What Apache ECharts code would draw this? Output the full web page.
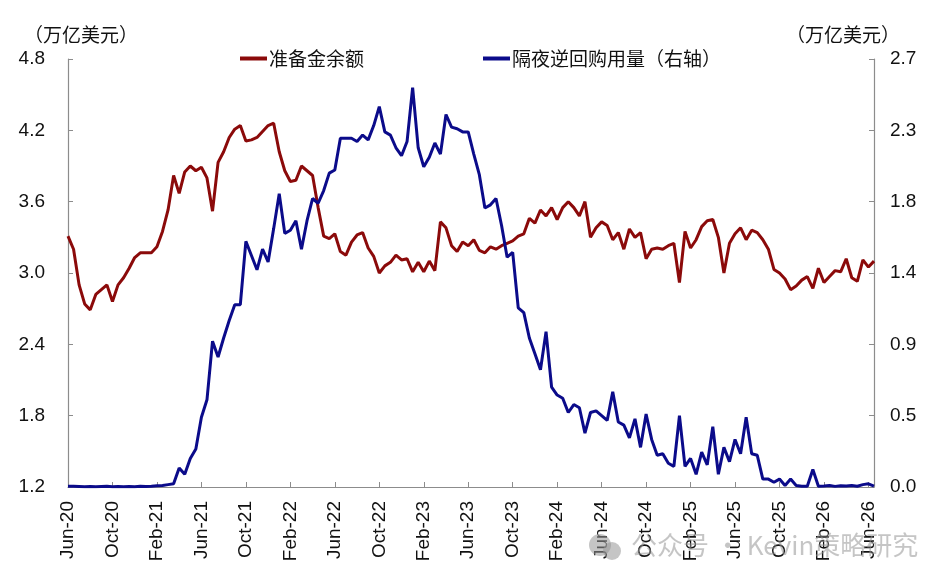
<!DOCTYPE html>
<html>
<head>
<meta charset="utf-8">
<script src="https://cdn.jsdelivr.net/npm/echarts@6/dist/echarts.min.js"></script>
<style>html,body{margin:0;padding:0;background:#fff}#c{width:947px;height:587px}</style>
</head>
<body>
<div id="c"></div>
<script>
// Half-month sampling starting June 2020 (146 points, Jun-20 .. just past Jun-26)
const startYear = 2020, startMonth = 5; // June (0-based)
const categories = [];
for (let i = 0; i < 146; i++) {
  const mIdx = startMonth + Math.floor(i / 2);
  const y = startYear + Math.floor(mIdx / 12);
  const m = mIdx % 12;
  categories.push(y + '-' + String(m + 1).padStart(2, '0') + '-' + (i % 2 === 0 ? '01' : '16'));
}
const monthNames = ['Jan','Feb','Mar','Apr','May','Jun','Jul','Aug','Sep','Oct','Nov','Dec'];

// 准备金余额 (left axis, 万亿美元)
const reserves = [
  3.31,3.20,2.90,2.74,2.69,2.82,2.86,2.90,2.76,2.90,
  2.96,3.04,3.13,3.17,3.17,3.17,3.22,3.35,3.53,3.82,
  3.67,3.85,3.90,3.86,3.89,3.80,3.52,3.93,4.02,4.14,
  4.21,4.24,4.11,4.12,4.14,4.19,4.24,4.26,4.02,3.86,
  3.77,3.78,3.90,3.86,3.82,3.55,3.31,3.29,3.33,3.18,
  3.15,3.26,3.32,3.34,3.21,3.14,3.00,3.06,3.09,3.15,
  3.11,3.12,3.01,3.09,3.01,3.10,3.02,3.43,3.38,3.23,
  3.18,3.26,3.23,3.28,3.19,3.17,3.22,3.20,3.23,3.25,
  3.27,3.31,3.33,3.46,3.42,3.53,3.48,3.55,3.45,3.55,
  3.60,3.55,3.48,3.60,3.30,3.38,3.43,3.40,3.28,3.34,
  3.20,3.37,3.30,3.34,3.12,3.20,3.21,3.20,3.23,3.25,
  2.92,3.35,3.21,3.28,3.39,3.44,3.45,3.30,3.00,3.25,
  3.33,3.38,3.28,3.36,3.34,3.28,3.20,3.03,3.00,2.95,
  2.86,2.89,2.94,2.97,2.87,3.04,2.92,2.97,3.02,3.01,
  3.12,2.96,2.93,3.11,3.05,3.10
];

// 隔夜逆回购用量 (right axis, 万亿美元)
const onRrp = [
  0.005,0.004,0.003,0.002,0.003,0.002,0.003,0.004,0.002,0.003,
  0.002,0.003,0.002,0.004,0.003,0.005,0.008,0.010,0.015,0.02,
  0.12,0.08,0.18,0.24,0.44,0.55,0.92,0.82,0.94,1.05,
  1.15,1.15,1.55,1.46,1.37,1.50,1.42,1.63,1.85,1.60,
  1.62,1.68,1.50,1.68,1.82,1.79,1.87,1.98,2.00,2.20,
  2.20,2.20,2.18,2.22,2.19,2.28,2.40,2.24,2.22,2.14,
  2.09,2.18,2.52,2.14,2.02,2.08,2.17,2.10,2.35,2.27,
  2.26,2.24,2.24,2.10,1.97,1.76,1.78,1.82,1.65,1.45,
  1.48,1.13,1.10,0.94,0.84,0.74,0.98,0.63,0.58,0.56,
  0.47,0.52,0.50,0.34,0.47,0.48,0.45,0.42,0.60,0.41,
  0.39,0.31,0.43,0.25,0.46,0.30,0.20,0.21,0.15,0.13,
  0.45,0.13,0.18,0.08,0.22,0.14,0.38,0.08,0.25,0.16,
  0.30,0.21,0.44,0.21,0.20,0.05,0.05,0.03,0.05,0.01,
  0.05,0.01,0.005,0.005,0.11,0.005,0.006,0.010,0.004,0.008,
  0.006,0.010,0.005,0.015,0.020,0.005
];

const leftTicks = { min: 1.2, max: 4.8, interval: 0.6 };
const rightTicks = { min: 0, max: 2.7, interval: 0.45 };

const FONT = '"Liberation Sans", Arial, "Noto Sans CJK SC", sans-serif';
const CJK = '"Noto Sans CJK SC", sans-serif';
const AXIS_COLOR = '#8c8c8c';
const RED = '#8b0a0a';
const BLUE = '#0b0b8a';

const chart = echarts.init(document.getElementById('c'), null, { renderer: 'canvas' });
chart.setOption({
  backgroundColor: '#ffffff',
  animation: false,
  textStyle: { fontFamily: FONT },
  grid: { left: 68, right: 73, top: 59, bottom: 100, containLabel: false },
  legend: [
    {
      left: 235, top: 44, itemWidth: 27, itemHeight: 4, icon: 'rect', itemGap: 4,
      data: ['准备金余额'],
      textStyle: { fontSize: 19, color: '#111', fontFamily: CJK, padding: [0,0,0,-3] }
    },
    {
      left: 478, top: 44, itemWidth: 27, itemHeight: 4, icon: 'rect', itemGap: 4,
      data: ['隔夜逆回购用量（右轴）'],
      textStyle: { fontSize: 19, color: '#111', fontFamily: CJK, padding: [0,0,0,-3] }
    }
  ],
  graphic: [
    { type: 'text', left: 24, top: 25, style: { text: '（万亿美元）', fontSize: 19, fill: '#111', fontFamily: CJK } },
    { type: 'text', left: 786, top: 25, style: { text: '（万亿美元）', fontSize: 19, fill: '#111', fontFamily: CJK } },
    { type: 'circle', left: 589, top: 534, z: 100, shape: { r: 11 }, style: { fill: 'rgba(150,150,150,0.55)' } },
    { type: 'circle', left: 603, top: 542, z: 100, shape: { r: 9 }, style: { fill: 'rgba(150,150,150,0.55)' } },
    { type: 'text', left: 631, top: 532, z: 100, style: { text: '公众号 · Kevin策略研究', fontSize: 26, fill: 'rgba(150,150,150,0.55)', fontFamily: CJK } }
  ],
  xAxis: {
    type: 'category',
    data: categories,
    boundaryGap: false,
    axisLine: { lineStyle: { color: AXIS_COLOR, width: 1.2 } },
    axisTick: { inside: true, length: 5, interval: (idx) => idx % 8 === 0, lineStyle: { color: AXIS_COLOR } },
    axisLabel: {
      interval: (idx) => idx % 8 === 0,
      rotate: 90, margin: 14, fontSize: 19, color: '#111', fontFamily: FONT,
      formatter: (v) => {
        const [y, m] = v.split('-');
        return monthNames[parseInt(m, 10) - 1] + '-' + y.slice(2);
      }
    },
    splitLine: { show: false }
  },
  yAxis: [
    {
      type: 'value', min: leftTicks.min, max: leftTicks.max, interval: leftTicks.interval,
      axisLine: { show: true, lineStyle: { color: AXIS_COLOR, width: 1.2 } },
      axisTick: { show: true, inside: true, length: 5, lineStyle: { color: AXIS_COLOR } },
      axisLabel: { fontSize: 19, color: '#111', margin: 23, fontFamily: FONT, formatter: (v) => v.toFixed(1) },
      splitLine: { show: false }
    },
    {
      type: 'value', min: rightTicks.min, max: rightTicks.max, interval: rightTicks.interval,
      position: 'right',
      axisLine: { show: true, lineStyle: { color: AXIS_COLOR, width: 1.2 } },
      axisTick: { show: true, inside: true, length: 5, lineStyle: { color: AXIS_COLOR } },
      axisLabel: { fontSize: 19, color: '#111', margin: 16, fontFamily: FONT,
        formatter: (v) => (Math.round(Math.round(v * 100) / 10) / 10).toFixed(1) },
      splitLine: { show: false }
    }
  ],
  series: [
    {
      name: '准备金余额', type: 'line', yAxisIndex: 0, data: reserves,
      showSymbol: false, symbol: 'none', smooth: false,
      lineStyle: { color: RED, width: 3 }, itemStyle: { color: RED }, z: 2
    },
    {
      name: '隔夜逆回购用量（右轴）', type: 'line', yAxisIndex: 1, data: onRrp,
      showSymbol: false, symbol: 'none', smooth: false,
      lineStyle: { color: BLUE, width: 3 }, itemStyle: { color: BLUE }, z: 3
    }
  ]
});
</script>
</body>
</html>
